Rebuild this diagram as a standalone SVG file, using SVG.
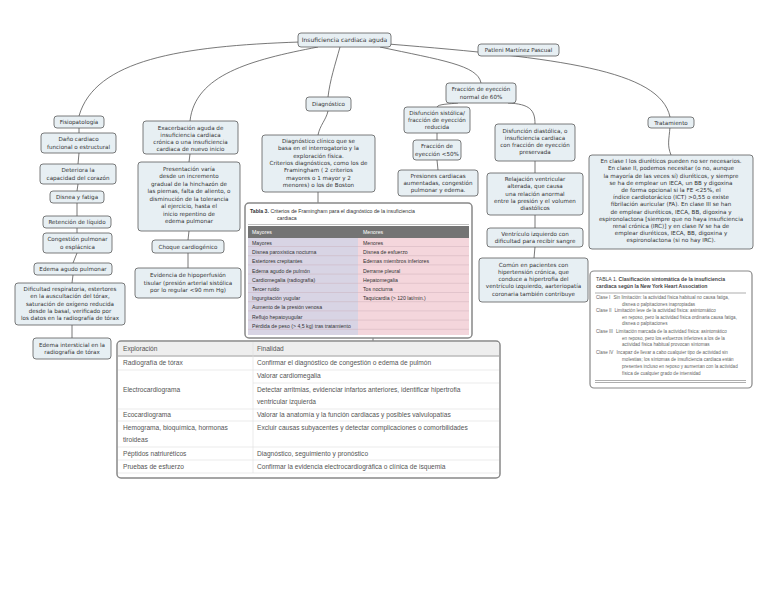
<svg xmlns="http://www.w3.org/2000/svg" width="768" height="594" viewBox="0 0 768 594">
<style>
.n rect{fill:#e7eff3;stroke:#5a5a5a;stroke-width:0.8}
.n text{font-family:"DejaVu Sans",Verdana,sans-serif;font-size:5.6px;fill:#333;text-anchor:middle}
.c path,.c line{fill:none;stroke:#555;stroke-width:0.8}
.t3{font-family:"Liberation Sans",Arial,sans-serif;font-size:5.2px;fill:#333}
.t1{font-family:"Liberation Sans",Arial,sans-serif;font-size:4.6px;fill:#666}
.bt{font-family:"Liberation Sans",Arial,sans-serif;font-size:6.6px;fill:#555}
.rl{stroke:#ddd;stroke-width:0.6}
</style>
<rect width="768" height="594" fill="#fff"/>
<g class="c" id="connectors">
<path d="M300,42 C180,46 95,60 79,116"/>
<path d="M318,47 C250,60 195,75 190,121"/>
<path d="M340,47 C335,65 330,80 328,97"/>
<path d="M380,47 C440,60 478,65 481,83"/>
<path d="M388,44 C560,58 660,70 670,117"/>
<line x1="79" y1="128" x2="79" y2="133"/>
<line x1="79" y1="153" x2="78" y2="164"/>
<line x1="78" y1="184" x2="77" y2="191"/>
<line x1="77" y1="203" x2="77" y2="216"/>
<line x1="77" y1="228" x2="77" y2="233"/>
<line x1="77" y1="253" x2="73" y2="263"/>
<line x1="73" y1="275" x2="72" y2="283"/>
<line x1="72" y1="325" x2="72" y2="338"/>
<line x1="190" y1="154" x2="189" y2="162"/>
<line x1="189" y1="231" x2="188" y2="240"/>
<line x1="188" y1="253" x2="188" y2="268"/>
<path d="M328,111 C326,120 320,125 318,135"/>
<line x1="318" y1="192" x2="318" y2="203"/>
<line x1="373" y1="338" x2="373" y2="341"/>
<path d="M458,103 C450,104 438,104 437,107"/>
<path d="M508,103 C530,104 535,110 535,124"/>
<line x1="437" y1="133" x2="437" y2="140"/>
<line x1="437" y1="160" x2="438" y2="170"/>
<line x1="535" y1="161" x2="535" y2="173"/>
<line x1="535" y1="215" x2="535" y2="228"/>
<line x1="535" y1="247" x2="534" y2="258"/>
<path d="M670,127 C669,140 667,145 671,155"/>
</g>
<g class="n" id="root"><rect x="298" y="33" width="93" height="14" rx="3"/><text x="344.5" y="42.3" style="font-size:6px">Insuficiencia cardiaca aguda</text></g>
<g class="n" id="autor"><rect x="478" y="44" width="81" height="12" rx="3"/><text x="518.5" y="52.2">Patleni Martínez Pascual</text></g>
<g class="n" id="fisio"><rect x="54" y="116" width="50" height="12" rx="3"/><text x="79" y="124.2">Fisiopatología</text></g>
<g class="n" id="dano"><rect x="41" y="133" width="75" height="20" rx="3"/><text x="78.5" y="141">Daño cardiaco</text><text x="78.5" y="148.5">funcional o estructural</text></g>
<g class="n" id="deteriora"><rect x="40" y="164" width="76" height="20" rx="3"/><text x="78" y="172">Deteriora la</text><text x="78" y="179.5">capacidad del corazón</text></g>
<g class="n" id="disnea"><rect x="50" y="191" width="54" height="12" rx="3"/><text x="77" y="199.2">Disnea y fatiga</text></g>
<g class="n" id="retencion"><rect x="43" y="216" width="68" height="12" rx="3"/><text x="77" y="224.2">Retención de líquido</text></g>
<g class="n" id="congestion"><rect x="43" y="233" width="69" height="20" rx="3"/><text x="77.5" y="241">Congestión pulmonar</text><text x="77.5" y="248.5">o esplácnica</text></g>
<g class="n" id="edema"><rect x="34" y="263" width="78" height="12" rx="3"/><text x="73" y="271.2">Edema agudo pulmonar</text></g>
<g class="n" id="dificultad"><rect x="15" y="283" width="110" height="42" rx="3"/><text x="70" y="291">Dificultad respiratoria, estertores</text><text x="70" y="298.3">en la auscultación del tórax,</text><text x="70" y="305.6">saturación de oxígeno reducida</text><text x="70" y="312.9">desde la basal, verificado por</text><text x="70" y="320.2">los datos en la radiografía de tórax</text></g>
<g class="n" id="intersticial"><rect x="33" y="338" width="78" height="21" rx="3"/><text x="72" y="346.5">Edema intersticial en la</text><text x="72" y="354">radiografía de tórax</text></g>
<g class="n" id="exacerbacion"><rect x="143" y="121" width="95" height="33" rx="3"/><text x="190.5" y="129.5">Exacerbación aguda de</text><text x="190.5" y="136.8">insuficiencia cardiaca</text><text x="190.5" y="144.1">crónica o una insuficiencia</text><text x="190.5" y="151.4">cardiaca de nuevo inicio</text></g>
<g class="n" id="presentacion"><rect x="138" y="162" width="102" height="69" rx="3"/><text x="189" y="170.5">Presentación varía</text><text x="189" y="178">desde un incremento</text><text x="189" y="185.5">gradual de la hinchazón de</text><text x="189" y="193">las piernas, falta de aliento, o</text><text x="189" y="200.5">disminución de la tolerancia</text><text x="189" y="208">al ejercicio, hasta el</text><text x="189" y="215.5">inicio repentino de</text><text x="189" y="223">edema pulmonar</text></g>
<g class="n" id="choque"><rect x="152" y="240" width="72" height="13" rx="3"/><text x="188" y="248.7">Choque cardiogénico</text></g>
<g class="n" id="evidencia"><rect x="135" y="268" width="106" height="30" rx="3"/><text x="188" y="277">Evidencia de hipoperfusión</text><text x="188" y="284.5">tisular (presión arterial sistólica</text><text x="188" y="292">por lo regular &lt;90 mm Hg)</text></g>
<g class="n" id="diagnostico"><rect x="306" y="97" width="45" height="14" rx="3"/><text x="328.5" y="106">Diagnóstico</text></g>
<g class="n" id="clinico"><rect x="262" y="135" width="113" height="57" rx="3"/><text x="318.5" y="143">Diagnóstico clínico que se</text><text x="318.5" y="150.3">basa en el interrogatorio y la</text><text x="318.5" y="157.6">exploración física.</text><text x="318.5" y="164.9">Criterios diagnósticos, como los de</text><text x="318.5" y="172.2">Framingham ( 2 criterios</text><text x="318.5" y="179.5">mayores o 1 mayor y 2</text><text x="318.5" y="186.8">menores) o los de Boston</text></g>
<g id="tabla3">
<rect x="245" y="203" width="227" height="135" rx="4" fill="#fff" stroke="#888" stroke-width="1.5"/>
<text class="t3" x="250" y="213"><tspan font-weight="bold">Tabla 3.</tspan> Criterios de Framingham para el diagnóstico de la insuficiencia</text>
<text class="t3" x="277" y="220">cardiaca</text>
<line x1="248" y1="224.5" x2="469" y2="224.5" stroke="#999" stroke-width="0.6"/>
<rect x="248" y="226" width="221" height="12" fill="#747474"/>
<rect x="248" y="238" width="110" height="97" fill="#d8d4e4"/>
<rect x="358" y="238" width="111" height="97" fill="#f4d6dc"/>
<text class="t3" x="252" y="234" style="fill:#fff">Mayores</text>
<text class="t3" x="363" y="234" style="fill:#fff">Menores</text>
<g stroke="#c7a9b3" stroke-width="0.4">
<line x1="248" y1="246.5" x2="469" y2="246.5"/><line x1="248" y1="255.7" x2="469" y2="255.7"/><line x1="248" y1="264.9" x2="469" y2="264.9"/><line x1="248" y1="274.1" x2="469" y2="274.1"/><line x1="248" y1="283.3" x2="469" y2="283.3"/><line x1="248" y1="292.5" x2="469" y2="292.5"/><line x1="248" y1="301.7" x2="469" y2="301.7"/><line x1="248" y1="310.9" x2="469" y2="310.9"/><line x1="248" y1="320.1" x2="469" y2="320.1"/><line x1="248" y1="329.3" x2="469" y2="329.3"/>
</g>
<text class="t3" x="252" y="245">Mayores</text>
<text class="t3" x="252" y="254.2">Disnea paroxística nocturna</text>
<text class="t3" x="252" y="263.4">Estertores crepitantes</text>
<text class="t3" x="252" y="272.6">Edema agudo de pulmón</text>
<text class="t3" x="252" y="281.8">Cardiomegalia (radiografía)</text>
<text class="t3" x="252" y="291">Tercer ruido</text>
<text class="t3" x="252" y="300.2">Ingurgitación yugular</text>
<text class="t3" x="252" y="309.4">Aumento de la presión venosa</text>
<text class="t3" x="252" y="318.6">Reflujo hepatoyugular</text>
<text class="t3" x="252" y="327.8">Pérdida de peso (&gt; 4,5 kg) tras tratamiento</text>
<text class="t3" x="363" y="245">Menores</text>
<text class="t3" x="363" y="254.2">Disnea de esfuerzo</text>
<text class="t3" x="363" y="263.4">Edemas miembros inferiores</text>
<text class="t3" x="363" y="272.6">Derrame pleural</text>
<text class="t3" x="363" y="281.8">Hepatomegalia</text>
<text class="t3" x="363" y="291">Tos nocturna</text>
<text class="t3" x="363" y="300.2">Taquicardia (&gt; 120 lat/min.)</text>
</g>
<g class="n" id="fraccion"><rect x="446" y="83" width="70" height="20" rx="3"/><text x="481" y="91">Fracción de eyección</text><text x="481" y="98.5">normal de 60%</text></g>
<g class="n" id="sistolica"><rect x="404" y="107" width="66" height="26" rx="3"/><text x="437" y="114.5">Disfunción sistólica/</text><text x="437" y="121.8">fracción de eyección</text><text x="437" y="129.1">reducida</text></g>
<g class="n" id="menor50"><rect x="413" y="140" width="48" height="20" rx="3"/><text x="437" y="148">Fracción de</text><text x="437" y="155.5">eyección &lt;50%</text></g>
<g class="n" id="presiones"><rect x="398" y="170" width="80" height="26" rx="3"/><text x="438" y="177.5">Presiones cardiacas</text><text x="438" y="184.8">aumentadas, congestión</text><text x="438" y="192.1">pulmonar y edema.</text></g>
<g class="n" id="diastolica"><rect x="495" y="124" width="80" height="37" rx="3"/><text x="535" y="132.5">Disfunción diastólica, o</text><text x="535" y="139.8">insuficiencia cardiaca</text><text x="535" y="147.1">con fracción de eyección</text><text x="535" y="154.4">preservada</text></g>
<g class="n" id="relajacion"><rect x="487" y="173" width="96" height="42" rx="3"/><text x="535" y="181">Relajación ventricular</text><text x="535" y="188.3">alterada, que causa</text><text x="535" y="195.6">una relación anormal</text><text x="535" y="202.9">entre la presión y el volumen</text><text x="535" y="210.2">diastólicos</text></g>
<g class="n" id="ventriculo"><rect x="487" y="228" width="96" height="19" rx="3"/><text x="535" y="235.8">Ventrículo izquierdo con</text><text x="535" y="243.1">dificultad para recibir sangre</text></g>
<g class="n" id="comun"><rect x="479" y="258" width="109" height="44" rx="3"/><text x="533.5" y="266.5">Común en pacientes con</text><text x="533.5" y="273.8">hipertensión crónica, que</text><text x="533.5" y="281.1">conduce a hipertrofia del</text><text x="533.5" y="288.4">ventrículo izquierdo, aarteriopatía</text><text x="533.5" y="295.7">coronaria también contribuye</text></g>
<g class="n" id="tratamiento"><rect x="648" y="117" width="46" height="11" rx="3"/><text x="671" y="124.7">Tratamiento</text></g>
<g class="n" id="tratamiento-texto"><rect x="589" y="155" width="164" height="94" rx="3"/><text x="671" y="163.2">En clase I los diuréticos pueden no ser necesarios.</text><text x="671" y="170.4">En clase II, podemos necesitar (o no, aunque</text><text x="671" y="177.6">la mayoría de las veces sí) diuréticos, y siempre</text><text x="671" y="184.8">se ha de emplear un IECA, un BB y digoxina</text><text x="671" y="192">de forma opcional si la FE &lt;25%, el</text><text x="671" y="199.2">índice cardiotorácico (ICT) &gt;0,55 o existe</text><text x="671" y="206.4">fibrilación auricular (FA). En clase III se han</text><text x="671" y="213.6">de emplear diuréticos, IECA, BB, digoxina y</text><text x="671" y="220.8">espironolactona [siempre que no haya insuficiencia</text><text x="671" y="228">renal crónica (IRC)] y en clase IV se ha de</text><text x="671" y="235.2">emplear diuréticos, IECA, BB, digoxina y</text><text x="671" y="242.4">espironolactona (si no hay IRC).</text></g>
<g id="tabla1">
<rect x="590" y="271" width="162" height="117" rx="4" fill="#fff" stroke="#888" stroke-width="1.2"/>
<text x="596" y="281" style="font-family:'Liberation Sans',Arial,sans-serif;font-size:5.1px;fill:#444">TABLA 1. <tspan font-weight="bold">Clasificación sintomática de la insuficiencia</tspan></text>
<text x="596" y="288" style="font-family:'Liberation Sans',Arial,sans-serif;font-size:5.1px;fill:#444;font-weight:bold">cardiaca según la New York Heart Association</text>
<line x1="595" y1="293" x2="746" y2="293" stroke="#777" stroke-width="0.6"/>
<text class="t1" x="596" y="299">Clase I</text><text class="t1" x="613.5" y="299">Sin limitación: la actividad física habitual no causa fatiga,</text>
<text class="t1" x="622" y="305.5">disnea o palpitaciones inapropiadas</text>
<text class="t1" x="596" y="312">Clase II</text><text class="t1" x="614.5" y="312">Limitación leve de la actividad física: asintomático</text>
<text class="t1" x="622" y="318.7">en reposo, pero la actividad física ordinaria causa fatiga,</text>
<text class="t1" x="622" y="325.4">disnea o palpitaciones</text>
<text class="t1" x="596" y="332.5">Clase III</text><text class="t1" x="616" y="332.5">Limitación marcada de la actividad física: asintomático</text>
<text class="t1" x="622" y="339.5">en reposo, pero los esfuerzos inferiores a los de la</text>
<text class="t1" x="622" y="346.3">actividad física habitual provocan síntomas</text>
<text class="t1" x="596" y="354">Clase IV</text><text class="t1" x="616.5" y="354">Incapaz de llevar a cabo cualquier tipo de actividad sin</text>
<text class="t1" x="622" y="361">molestias; los síntomas de insuficiencia cardiaca están</text>
<text class="t1" x="622" y="368">presentes incluso en reposo y aumentan con la actividad</text>
<text class="t1" x="622" y="375">física de cualquier grado de intensidad</text>
<line x1="595" y1="380.5" x2="746" y2="380.5" stroke="#777" stroke-width="0.6"/>
<line x1="595" y1="382.5" x2="746" y2="382.5" stroke="#777" stroke-width="0.6"/>
</g>
<g id="tabla-exploracion">
<rect x="117" y="341" width="383" height="137" rx="4" fill="#fff" stroke="#888" stroke-width="1.5"/>
<path d="M118,355.5 V345 Q118,342 121,342 H496 Q499,342 499,345 V355.5 Z" fill="#eee"/>
<line x1="118" y1="356" x2="499" y2="356" stroke="#999" stroke-width="1.2"/>
<line x1="253" y1="342" x2="253" y2="473" class="rl"/>
<line x1="118" y1="370" x2="499" y2="370" class="rl"/>
<line x1="253" y1="383" x2="499" y2="383" class="rl"/>
<line x1="118" y1="409" x2="499" y2="409" class="rl"/>
<line x1="118" y1="421" x2="499" y2="421" class="rl"/>
<line x1="118" y1="447" x2="499" y2="447" class="rl"/>
<line x1="118" y1="460" x2="499" y2="460" class="rl"/>
<line x1="118" y1="473" x2="499" y2="473" class="rl"/>
<text class="bt" x="123" y="351">Exploración</text>
<text class="bt" x="257" y="351">Finalidad</text>
<text class="bt" x="123" y="365">Radiografía de tórax</text>
<text class="bt" x="257" y="365">Confirmar el diagnóstico de congestión o edema de pulmón</text>
<text class="bt" x="257" y="377.5">Valorar cardiomegalia</text>
<text class="bt" x="123" y="392">Electrocardiograma</text>
<text class="bt" x="257" y="392">Detectar arritmias, evidenciar infartos anteriores, identificar hipertrofia</text>
<text class="bt" x="257" y="404">ventricular izquierda</text>
<text class="bt" x="123" y="417">Ecocardiograma</text>
<text class="bt" x="257" y="417">Valorar la anatomía y la función cardiacas y posibles valvulopatías</text>
<text class="bt" x="123" y="430">Hemograma, bioquímica, hormonas</text>
<text class="bt" x="257" y="430">Excluir causas subyacentes y detectar complicaciones o comorbilidades</text>
<text class="bt" x="123" y="442">tiroideas</text>
<text class="bt" x="123" y="456">Péptidos natriuréticos</text>
<text class="bt" x="257" y="456">Diagnóstico, seguimiento y pronóstico</text>
<text class="bt" x="123" y="468.5">Pruebas de esfuerzo</text>
<text class="bt" x="257" y="468.5">Confirmar la evidencia electrocardiográfica o clínica de isquemia</text>
</g>
</svg>
